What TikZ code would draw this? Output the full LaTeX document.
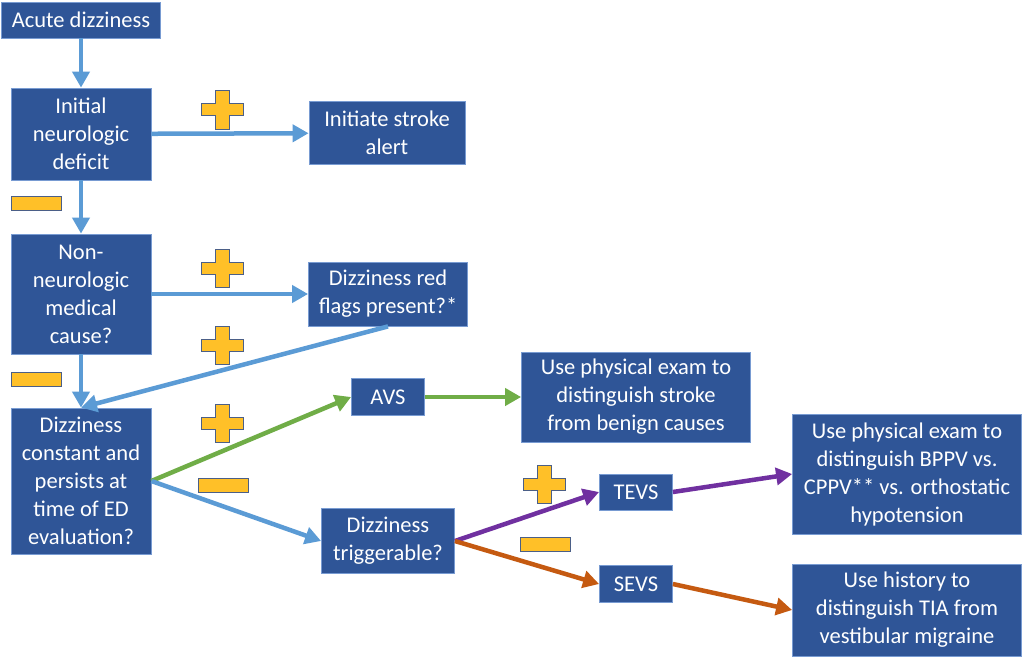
\documentclass[tikz,border=0pt]{standalone}
\usepackage{fontspec}
\setmainfont{Carlito}
\usepackage{tikz}
\usetikzlibrary{arrows.meta}
\usepackage{xcolor}
\definecolor{boxblue}{RGB}{47,85,151}
\definecolor{boxedge}{RGB}{120,155,210}
\definecolor{flowblue}{RGB}{91,155,213}
\definecolor{avsgreen}{RGB}{112,173,71}
\definecolor{tevspurple}{RGB}{112,48,160}
\definecolor{sevsorange}{RGB}{197,90,17}
\definecolor{signgold}{RGB}{255,192,40}
\definecolor{signedge}{RGB}{75,95,135}

\tikzset{
  flowbox/.style={rectangle,draw=boxedge,line width=0.8pt,fill=boxblue,
    text=white,font=\fontsize{22.5}{28}\selectfont,align=center,inner sep=0pt},
  flowarrow/.style={line width=4.5pt,-{Triangle[length=16pt,width=17pt]}},
  plussign/.pic={
    \draw[signedge,fill=signgold,line width=1pt]
      (-21,-6)--(-7,-6)--(-7,-19)--(7,-19)--(7,-6)--(21,-6)--(21,6)
      --(7,6)--(7,19)--(-7,19)--(-7,6)--(-21,6)--cycle;
  },
  minussign/.pic={
    \draw[signedge,fill=signgold,line width=1pt] (-25,-7) rectangle (25,7);
  }
}

\begin{document}
\begin{tikzpicture}[x=1pt,y=-1pt]
\useasboundingbox[fill=white] (0,0) rectangle (1024,658);

% left column
\node[flowbox,minimum width=159pt,minimum height=36pt] (acute) at (81,20) {Acute dizziness};
\node[flowbox,minimum width=140pt,minimum height=92pt] (deficit) at (81,134) {Initial\\neurologic\\deficit};
\node[flowbox,minimum width=140pt,minimum height=120pt] (nonneuro) at (81,294) {Non-\\neurologic\\medical\\cause?};
\node[flowbox,minimum width=140pt,minimum height=146pt] (constant) at (81,481) {Dizziness\\constant and\\persists at\\time of ED\\evaluation?};

% middle column
\node[flowbox,minimum width=156pt,minimum height=63pt] (stroke) at (387,133) {Initiate stroke\\alert};
\node[flowbox,minimum width=159pt,minimum height=64pt] (redflags) at (388,294) {Dizziness red\\flags present?*};
\node[flowbox,minimum width=73pt,minimum height=37pt] (avs) at (388,397) {AVS};
\node[flowbox,minimum width=133pt,minimum height=65pt] (trigger) at (388,541) {Dizziness\\triggerable?};

% right columns
\node[flowbox,minimum width=229pt,minimum height=90pt] (benign) at (636,397) {Use physical exam to\\distinguish stroke\\from benign causes};
\node[flowbox,minimum width=73pt,minimum height=36pt] (tevs) at (636,492) {TEVS};
\node[flowbox,minimum width=73pt,minimum height=37pt] (sevs) at (636,584) {SEVS};
\node[flowbox,minimum width=229pt,minimum height=120pt] (bppv) at (907,474) {Use physical exam to\\distinguish BPPV vs.\\CPPV** vs. orthostatic\\hypotension};
\node[flowbox,minimum width=229pt,minimum height=92pt] (tia) at (907,610) {Use history to\\distinguish TIA from\\vestibular migraine};

% connectors
\draw[flowarrow,flowblue] (acute) -- (deficit);
\draw[flowarrow,flowblue] (deficit) -- (stroke);
\draw[flowarrow,flowblue] (deficit) -- (nonneuro);
\draw[flowarrow,flowblue] (nonneuro) -- (redflags);
\draw[flowarrow,flowblue] (nonneuro) -- (constant);
\draw[flowarrow,flowblue] (redflags.south) -- (constant.north);
\draw[flowarrow,avsgreen] (constant.east) -- (avs.west);
\draw[flowarrow,flowblue] (constant.east) -- (trigger.west);
\draw[flowarrow,avsgreen] (avs) -- (benign);
\draw[flowarrow,tevspurple] (trigger.east) -- (tevs.west);
\draw[flowarrow,sevsorange] (trigger.east) -- (sevs.west);
\draw[flowarrow,tevspurple] (tevs.east) -- (bppv.west);
\draw[flowarrow,sevsorange] (sevs.east) -- (tia.west);

% plus and minus marks
\foreach \px/\py in {222/110,222/268,222/345,222/423,544/484}
  \pic at (\px,\py) {plussign};
\foreach \mx/\my in {36/203,36/379,223/485,545/544}
  \pic at (\mx,\my) {minussign};
\end{tikzpicture}
\end{document}
